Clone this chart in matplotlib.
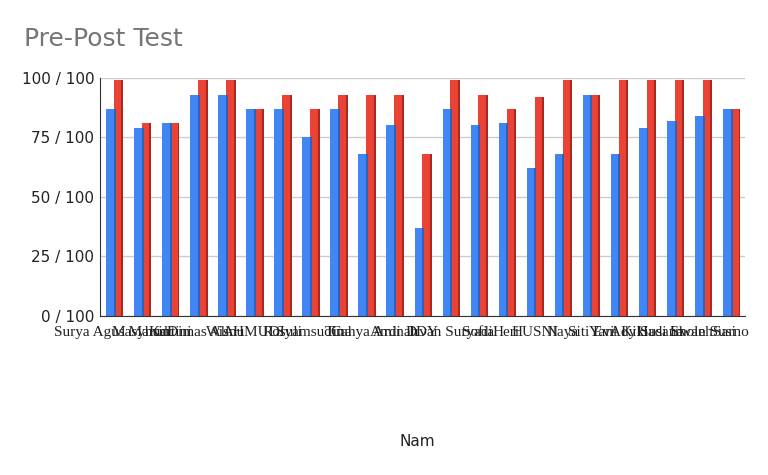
import matplotlib
matplotlib.use('Agg')
import matplotlib.pyplot as plt
import numpy as np

# names along the x axis (hard to read in the source, overlapping)
names = ['Surya Agus Martini', 'Masyhudi', 'Kartini', 'Dimas Ali', 'Wisnu',
         'AHMUDI', 'Rosuli', 'Syamsudin', 'Tina', 'Cahya Ardi', 'Aminah',
         'DDY', 'Irvan Suryadi', 'Sofia', 'Heri', 'HUSNI', 'Naya',
         'Siti Evi', 'Yani Kiki', 'Ady Susana', 'Hadi Sholeh', 'Irwan Susi',
         'Sarno']

# pre test scores (blue)
pre = [87, 79, 81, 93, 93, 87, 87, 75, 87, 68, 80, 37, 87, 80, 81, 62,
       68, 93, 68, 79, 82, 84, 87]

# post test scores (red)
post = [99, 81, 81, 99, 99, 87, 93, 87, 93, 93, 93, 68, 99, 93, 87, 92,
        99, 93, 99, 99, 99, 99, 87]

yticks = [0, 25, 50, 75, 100]

fig = plt.figure(figsize=(7.68, 4.75), dpi=100)
ax = fig.add_axes([0.130, 0.335, 0.840, 0.501])

x = np.arange(len(names))
w = 0.28
side = 0.07

# front faces
ax.bar(x - w / 2, pre, w, color='#4285F4', zorder=3)
ax.bar(x + w / 2, post, w, color='#EA4335', zorder=3)
# darker right side to fake the 3d look
ax.bar(x + side / 2 - 0.01, pre, side, color='#2f63b8', zorder=4)
ax.bar(x + w + side / 2 - 0.01, post, side, color='#a8291f', zorder=4)

ax.set_xlim(-0.5, len(names) - 0.5)
ax.set_ylim(0, 100)
ax.set_yticks(yticks)
ax.set_yticklabels(['%d / 100' % t for t in yticks], fontsize=11, color='#222222')
ax.set_xticks(x)
ax.set_xticklabels(names, family='Liberation Serif', fontsize=11, color='#222222')
ax.tick_params(axis='both', length=0)
ax.tick_params(axis='y', pad=4)
ax.tick_params(axis='x', pad=7)

ax.grid(axis='y', color='#cccccc', linewidth=1, zorder=0)
for s in ['top', 'right']:
    ax.spines[s].set_visible(False)
ax.spines['left'].set_color('#333333')
ax.spines['bottom'].set_color('#333333')
ax.spines['bottom'].set_zorder(5)

fig.text(0.031, 0.917, 'Pre-Post Test', fontsize=18, color='#757575', va='center')
fig.text(0.543, 0.071, 'Nam', fontsize=11, color='#222222', ha='center', va='center')

fig.savefig('out.png', dpi=100)
